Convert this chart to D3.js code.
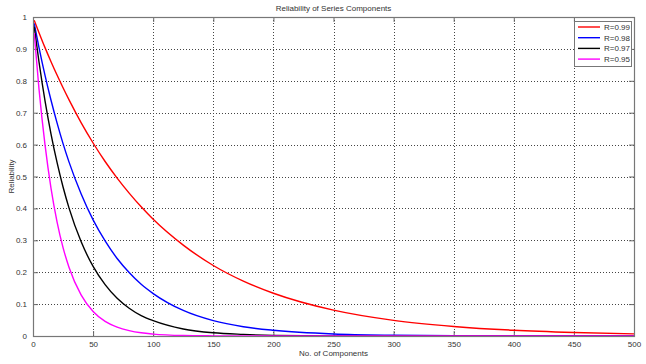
<!DOCTYPE html>
<html><head><meta charset="utf-8">
<script src="https://cdn.jsdelivr.net/npm/d3@7"></script>
<style>body{margin:0;background:#fff}text{font-family:"Liberation Sans",Arial,sans-serif}</style>
</head><body><svg id="c" width="646" height="364"></svg>
<script>
const nValues = [1,5,10,15,20,25,30,40,50,60,70,80,90,100,125,150,175,200,250,300,350,400,450,500];
const r099 = [0.99,0.951,0.904,0.860,0.818,0.778,0.740,0.669,0.605,0.547,0.495,0.448,0.405,0.366,0.285,0.221,0.172,0.134,0.081,0.049,0.030,0.018,0.011,0.0066];
const r098 = [0.98,0.904,0.817,0.739,0.668,0.603,0.545,0.446,0.364,0.298,0.243,0.199,0.162,0.133,0.080,0.048,0.029,0.018,0.0064,0.0023,0.0008,0.0003,0.0001,0.00004];
const r097 = [0.97,0.859,0.737,0.633,0.544,0.467,0.401,0.296,0.218,0.161,0.118,0.087,0.064,0.048,0.022,0.010,0.005,0.002,0.0005,0.0001,0,0,0,0];
const r095 = [0.95,0.774,0.599,0.463,0.358,0.277,0.215,0.129,0.077,0.046,0.028,0.017,0.010,0.006,0.0016,0.0005,0.0001,0,0,0,0,0,0,0];
const seriesNames = ["R=0.99","R=0.98","R=0.97","R=0.95"];
const seriesColors = ["#ff0000","#0000ff","#000000","#ff00ff"];
const xTicks = [0,50,100,150,200,250,300,350,400,450,500];
const yTicks = [0,0.1,0.2,0.3,0.4,0.5,0.6,0.7,0.8,0.9,1];

const svg = d3.select("#c");
const L=33,R=634,T=17,B=336;
const x = d3.scaleLinear().domain([0,500]).range([L,R]);
const y = d3.scaleLinear().domain([0,1]).range([B,T]);
const tc="#333";

// grid
const g = svg.append("g");
g.selectAll(".gx").data(xTicks.slice(1,-1)).enter().append("line")
 .attr("x1",d=>Math.round(x(d))+0.5).attr("x2",d=>Math.round(x(d))+0.5).attr("y1",T).attr("y2",B)
 .attr("stroke","#444").attr("stroke-width",1).attr("stroke-dasharray","1,2");
g.selectAll(".gy").data(yTicks.slice(1,-1)).enter().append("line")
 .attr("y1",d=>Math.round(y(d))+0.5).attr("y2",d=>Math.round(y(d))+0.5).attr("x1",L).attr("x2",R)
 .attr("stroke","#444").attr("stroke-width",1).attr("stroke-dasharray","1,2");

// axes
const xa = svg.append("g").attr("transform",`translate(0,${B})`)
 .call(d3.axisBottom(x).tickValues(xTicks).tickSize(-5).tickPadding(5).tickFormat(d3.format("d")));
const ya = svg.append("g").attr("transform",`translate(${L},0)`)
 .call(d3.axisLeft(y).tickValues(yTicks).tickSize(-5).tickPadding(6).tickFormat(d=>d===0||d===1?d3.format("d")(d):d3.format(".1f")(d)));
[xa,ya].forEach(a=>{a.select(".domain").remove();a.selectAll("line").attr("stroke","#666");
 a.selectAll("text").attr("fill",tc).style("font-size","8px").style("font-family","'Liberation Sans',Arial,sans-serif");});
// top ticks & right ticks
svg.append("g").attr("transform",`translate(0,${T})`).call(d3.axisTop(x).tickValues(xTicks).tickSize(-5).tickFormat(""))
 .call(a=>{a.select(".domain").remove();a.selectAll("line").attr("stroke","#666");});
svg.append("g").attr("transform",`translate(${R},0)`).call(d3.axisRight(y).tickValues(yTicks).tickSize(-5).tickFormat(""))
 .call(a=>{a.select(".domain").remove();a.selectAll("line").attr("stroke","#666");});

// lines
const allSeries=[r099,r098,r097,r095];
const line = d3.line().x((d,i)=>x(nValues[i])).y(d=>y(d)).curve(d3.curveMonotoneX);
allSeries.forEach((s,k)=>{
 svg.append("path").datum(s).attr("d",line).attr("fill","none").attr("stroke",seriesColors[k]).attr("stroke-width",1.4);
});

// box
svg.append("rect").attr("x",L+0.5).attr("y",T+0.5).attr("width",R-L).attr("height",B-T)
 .attr("fill","none").attr("stroke","#777").attr("stroke-width",1.2);

// title & labels
svg.append("text").attr("x",(L+R)/2).attr("y",11).attr("text-anchor","middle").attr("fill",tc).style("font-size","8px").text("Reliability of Series Components");
svg.append("text").attr("x",(L+R)/2).attr("y",356).attr("text-anchor","middle").attr("fill",tc).style("font-size","8px").text("No. of Components");
svg.append("text").attr("transform",`translate(14,${(T+B)/2}) rotate(-90)`).attr("text-anchor","middle").attr("fill",tc).style("font-size","8px").text("Reliability");

// legend
const lg = svg.append("g");
lg.append("rect").attr("x",574.5).attr("y",21.5).attr("width",57).attr("height",45).attr("fill","#fff").attr("stroke","#777").attr("stroke-width",1);
seriesNames.forEach((nm,k)=>{
 const yy=27+k*10.7;
 lg.append("line").attr("x1",578).attr("x2",600).attr("y1",yy).attr("y2",yy).attr("stroke",seriesColors[k]).attr("stroke-width",1.4);
 lg.append("text").attr("x",604).attr("y",yy+3).attr("fill",tc).style("font-size","8px").text(nm);
});
</script></body></html>
